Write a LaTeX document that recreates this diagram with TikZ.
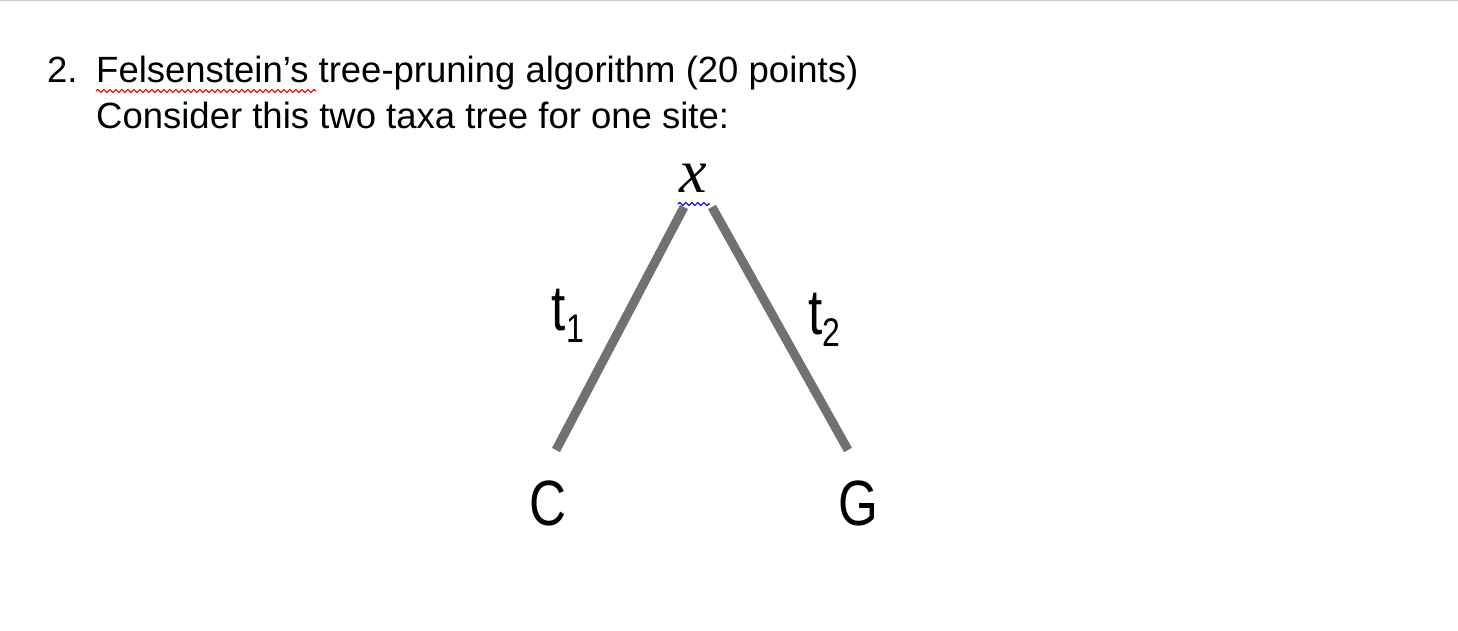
\documentclass[tikz,border=0pt]{standalone}
\usepackage{fontspec}
\setmainfont{Liberation Sans}
\newfontfamily\serifx{Liberation Serif}
\usetikzlibrary{decorations.pathmorphing}
\begin{document}
\begin{tikzpicture}[x=1pt,y=-1pt,
  branch/.style={line width=9pt,draw={rgb,255:red,115;green,112;blue,112}},
  txt/.style={anchor=base west,inner sep=0pt,font=\fontsize{36.5}{40}\selectfont},
  lbl/.style={inner sep=0pt,xscale=0.8,font=\fontsize{64}{70}\selectfont},
  squig/.style={decorate,decoration={snake,amplitude=1.5pt,segment length=6pt},line width=1.2pt}]
\useasboundingbox[fill=white] (0,0) rectangle (1458,630);
\draw[gray!40] (0,0.5) -- (1458,0.5);
\node[txt] (num) at (47,82) {2.};
\node[txt] (l1) at (96,82) {Felsenstein’s tree-pruning algorithm (20 points)};
\node[txt] (l2) at (96,128) {Consider this two taxa tree for one site:};
\draw[squig,red] (96,91) -- (316,91);
\node[inner sep=0pt,font=\fontsize{62}{66}\serifx\itshape] (x) at (693,178) {x};
\draw[squig,blue] (678,204) -- (710,204);
\coordinate (rl) at (684,207);
\coordinate (rr) at (712,207);
\coordinate (lc) at (556,450);
\coordinate (lg) at (848,450);
\draw[branch] (rl) -- (lc);
\draw[branch] (rr) -- (lg);
\node[lbl] (t1) at (568,316) {t{\fontsize{40}{40}\selectfont\raisebox{-12pt}{1}}};
\node[lbl] (t2) at (824,320) {t{\fontsize{40}{40}\selectfont\raisebox{-12pt}{2}}};
\node[lbl] (C) at (548,503) {C};
\node[lbl] (G) at (858,503) {G};
\end{tikzpicture}
\end{document}
